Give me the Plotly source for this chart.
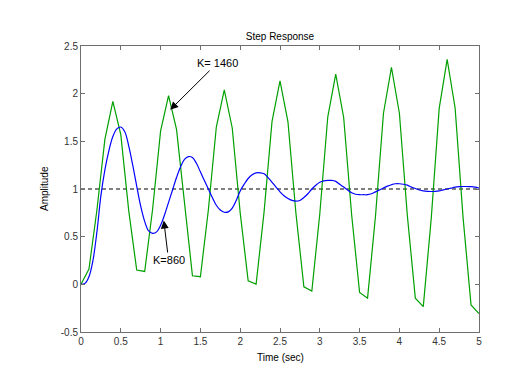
import plotly.graph_objects as go

# K=1460 response (sampled every 0.1 s)
t_k1460 = [round(0.1 * i, 1) for i in range(51)]
y_k1460 = [0.0, 0.16, 0.78, 1.52, 1.92, 1.57, 0.77, 0.15, 0.135, 0.79,
           1.61, 1.98, 1.625, 0.83, 0.09, 0.08, 0.78, 1.65, 2.04, 1.64,
           0.75, 0.037, 0.002, 0.76, 1.71, 2.135, 1.705, 0.745, -0.026, -0.07,
           0.74, 1.755, 2.205, 1.75, 0.73, -0.086, -0.145, 0.72, 1.795, 2.276,
           1.795, 0.72, -0.145, -0.234, 0.69, 1.845, 2.36, 1.85, 0.70, -0.216,
           -0.307]

# K=860 response (every 0.05 s)
t_k860 = [round(0.05 * i, 2) for i in range(101)]
y_k860 = [0.00, 0.01, 0.08, 0.25, 0.55, 0.93, 1.20, 1.40, 1.55, 1.63,
          1.65, 1.60, 1.45, 1.25, 1.03, 0.82, 0.66, 0.56, 0.535, 0.55,
          0.62, 0.73, 0.86, 0.99, 1.12, 1.23, 1.31, 1.34, 1.33, 1.27,
          1.18, 1.09, 1.00, 0.91, 0.83, 0.78, 0.756, 0.76, 0.80, 0.88,
          0.98, 1.05, 1.11, 1.15, 1.17, 1.17, 1.16, 1.12, 1.07, 1.02,
          0.97, 0.93, 0.90, 0.88, 0.872, 0.88, 0.91, 0.95, 1.00, 1.04,
          1.07, 1.085, 1.09, 1.09, 1.08, 1.05, 1.02, 0.99, 0.96, 0.945,
          0.94, 0.94, 0.94, 0.95, 0.97, 0.99, 1.01, 1.03, 1.045, 1.055,
          1.055, 1.05, 1.04, 1.02, 1.005, 0.99, 0.98, 0.975, 0.974, 0.975,
          0.98, 0.99, 1.00, 1.01, 1.02, 1.025, 1.026, 1.026, 1.025, 1.02,
          1.01]

ref_t = [0, 5]
ref_y = [1, 1]

x_ticks = [0, 0.5, 1, 1.5, 2, 2.5, 3, 3.5, 4, 4.5, 5]
x_ticklabels = ["0", "0.5", "1", "1.5", "2", "2.5", "3", "3.5", "4", "4.5", "5"]
y_ticks = [-0.5, 0, 0.5, 1, 1.5, 2, 2.5]
y_ticklabels = ["-0.5", "0", "0.5", "1", "1.5", "2", "2.5"]

font = "Liberation Sans, Arial, sans-serif"

W, H = 521, 364
ML, MR, MT, MB = 73, 50, 38, 40
PW, PH = W - ML - MR, H - MT - MB

fig = go.Figure()
fig.add_trace(go.Scatter(x=ref_t, y=ref_y, mode="lines",
                         line=dict(color="black", width=1, dash="4px,3px")))
fig.add_trace(go.Scatter(x=t_k1460, y=y_k1460, mode="lines",
                         line=dict(color="#00a000", width=1.2)))
fig.add_trace(go.Scatter(x=t_k860, y=y_k860, mode="lines", line_shape="spline",
                         line=dict(color="#0000ff", width=1.2)))

axis_common = dict(showgrid=False, zeroline=False, showline=True, linecolor="#6e6e6e",
                   linewidth=1, mirror="ticks", ticks="inside", ticklen=4,
                   tickcolor="#6e6e6e", automargin=False,
                   tickfont=dict(family=font, size=10, color="#333333"))

fig.update_layout(
    width=W, height=H,
    margin=dict(l=ML, r=MR, t=MT, b=MB),
    paper_bgcolor="white", plot_bgcolor="white",
    showlegend=False,
    title=dict(text="Step Response", x=272 / W, xanchor="center", y=1 - 28 / H,
               yanchor="middle", font=dict(family=font, size=10, color="black")),
    xaxis=dict(range=[0, 5], tickvals=x_ticks, ticktext=x_ticklabels,
               **axis_common),
    yaxis=dict(range=[-0.5, 2.5], tickvals=y_ticks, ticktext=y_ticklabels,
               **axis_common),
    annotations=[
        dict(x=(272 - ML) / PW, y=-(357 - 8 - (H - MB)) / PH, xref="paper", yref="paper",
             text="Time (sec)", showarrow=False, xanchor="center", yanchor="middle",
             font=dict(family=font, size=10, color="black")),
        dict(x=-(81 - 44) / PW, y=0.5, xref="paper", yref="paper",
             text="Amplitude", showarrow=False, textangle=-90, xanchor="center",
             yanchor="middle", font=dict(family=font, size=10, color="black")),
        dict(x=1.12, y=1.83, ax=1.71, ay=2.32, xref="x", yref="y", axref="x", ayref="y",
             text="K= 1460", showarrow=True, arrowhead=2, arrowsize=1.6, arrowwidth=1,
             arrowcolor="black", font=dict(family=font, size=11, color="black")),
        dict(x=1.04, y=0.67, ax=1.10, ay=0.255, xref="x", yref="y", axref="x", ayref="y",
             text="K=860", showarrow=True, arrowhead=2, arrowsize=1.6, arrowwidth=1,
             arrowcolor="black", font=dict(family=font, size=11, color="black")),
    ],
)

fig.write_html("out.html")
